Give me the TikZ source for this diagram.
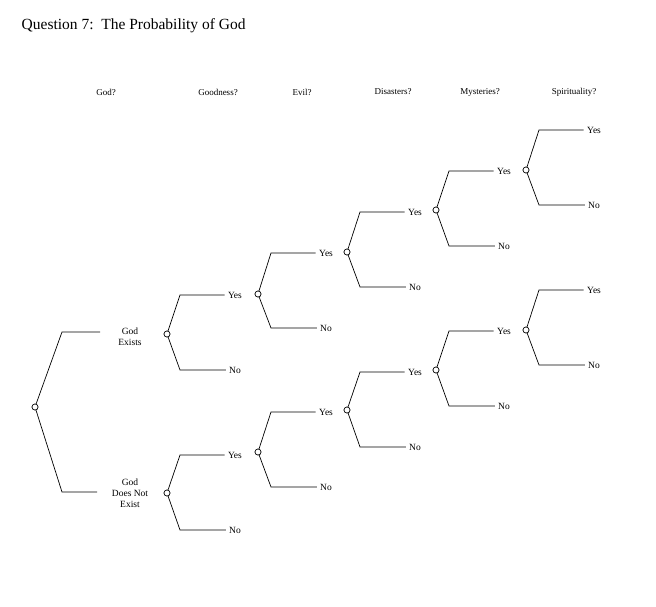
\documentclass[tikz,border=0pt]{standalone}
\usepackage{fontspec}
\setmainfont{Liberation Serif}
\begin{document}
\begin{tikzpicture}[x=1pt,y=-1pt,line width=0.7pt,
  dot/.style={circle,draw,fill=white,inner sep=0pt,minimum size=6pt,line width=0.6pt},
  lab/.style={font=\fontsize{9.5}{11}\selectfont,inner sep=3pt},
  hdr/.style={font=\fontsize{9}{10}\selectfont,anchor=center}]
\useasboundingbox (0,0) rectangle (656,606);
\node[anchor=west,font=\fontsize{15.5}{18}\selectfont] (title) at (18,26) {Question 7:\ \ The Probability of God};
\foreach \n/\t/\x in {h1/God?/106,h2/Goodness?/218,h3/Evil?/302,h4/Disasters?/393,h5/Mysteries?/480,h6/Spirituality?/574}
  \node[hdr] (\n) at (\x,92) {\t};
\newcommand\mkfork[6]{%
  \node[lab] (#1y) at (#2+68,#4) {#5};
  \node[lab] (#1n) at (#2+68,#4+75) {#6};
  \draw (#1) -- (#2+13,#4) -- (#1y.west);
  \draw (#1) -- (#2+13,#4+75) -- (#1n.west);
}
% root
\node[lab,align=center,inner sep=1pt] (ge) at (130,337) {God\\Exists};
\node[lab,align=center,inner sep=1pt] (gn) at (130,493) {God\\Does Not\\Exist};
\node[dot] (r) at (35,407) {};
\draw (r) -- (62,332) -- (100,332);
\draw (r) -- (62,492) -- (97,492);
\node[dot] (a) at (167,334) {};
\node[dot] (b) at (167,493) {};
\mkfork{a}{167}{334}{295}{Yes}{No}
\mkfork{b}{167}{493}{455}{Yes}{No}
\node[dot] (c) at (258,294) {};
\node[dot] (d) at (258,452) {};
\mkfork{c}{258}{294}{253}{Yes}{No}
\mkfork{d}{258}{452}{412}{Yes}{No}
\node[dot] (e) at (347,252) {};
\node[dot] (f) at (347,410) {};
\mkfork{e}{347}{252}{212}{Yes}{No}
\mkfork{f}{347}{410}{372}{Yes}{No}
\node[dot] (g) at (436,210) {};
\node[dot] (h) at (436,370) {};
\mkfork{g}{436}{210}{171}{Yes}{No}
\mkfork{h}{436}{370}{331}{Yes}{No}
\node[dot] (i) at (526,170) {};
\node[dot] (j) at (526,330) {};
\mkfork{i}{526}{170}{130}{Yes}{No}
\mkfork{j}{526}{330}{290}{Yes}{No}
\foreach \k in {r,a,b,c,d,e,f,g,h,i,j} \node[dot] at (\k) {};
\end{tikzpicture}
\end{document}
